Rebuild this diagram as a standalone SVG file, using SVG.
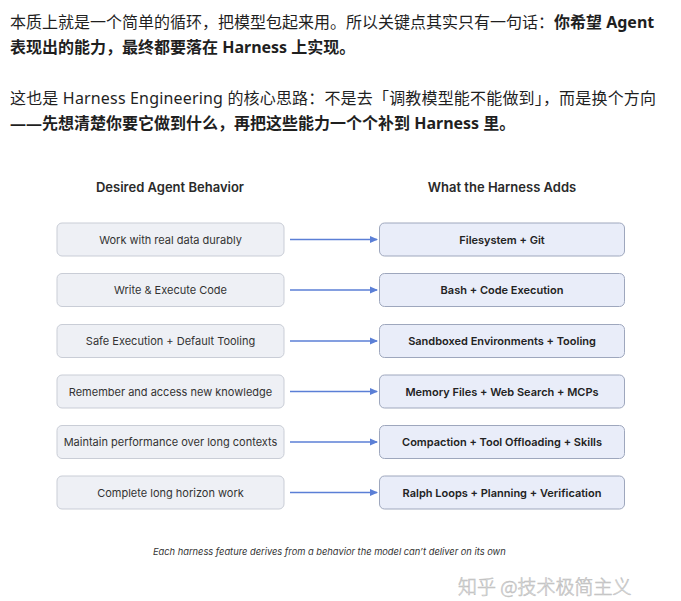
<svg xmlns="http://www.w3.org/2000/svg" width="681" height="601" viewBox="0 0 681 601">
<defs>
<style>
.p{font-family:"Noto Sans","Noto Sans CJK SC",sans-serif;font-size:16px;fill:#1f1f1f}
.b{font-weight:bold}
.h{font-family:Inter,"Liberation Sans",sans-serif;font-size:13px;font-weight:600;fill:#2a2a2a;text-anchor:middle}
.lb rect{fill:#eef0f5;stroke:#c9cdd6;stroke-width:1}
.rb rect{fill:#e9edf9;stroke:#9ea7bd;stroke-width:1}
.lt{font-family:Inter,"Liberation Sans",sans-serif;font-size:11px;fill:#333;text-anchor:middle}
.rt{font-family:Inter,"Liberation Sans",sans-serif;font-size:11px;font-weight:600;fill:#222;text-anchor:middle}
.cn line{stroke:#5b7fd6;stroke-width:1.3}
</style>
<marker id="ah" viewBox="0 0 8 8" refX="7" refY="4" markerWidth="8" markerHeight="8" markerUnits="userSpaceOnUse" orient="auto">
<path d="M0,0.5 L8,4 L0,7.5 Z" fill="#5b7fd6"/>
</marker>
</defs>
<rect width="681" height="601" fill="#fff"/>
<g id="intro">
<text class="p" x="10" y="28">本质上就是一个简单的循环，把模型包起来用。所以关键点其实只有一句话：<tspan class="b">你希望 Agent</tspan></text>
<text class="p b" x="10" y="53">表现出的能力，最终都要落在 Harness 上实现。</text>
<text class="p" x="10" y="104" textLength="646" lengthAdjust="spacing">这也是 Harness Engineering 的核心思路：不是去「调教模型能不能做到」，而是换个方向</text>
<text class="p b" x="10" y="129">——先想清楚你要它做到什么，再把这些能力一个个补到 Harness 里。</text>
</g>
<g id="headers">
<text class="h" x="170" y="192">Desired Agent Behavior</text>
<text class="h" x="502" y="192">What the Harness Adds</text>
</g>
<g id="left-nodes" class="lb">
<g id="l1"><rect x="57" y="223" width="227" height="33" rx="5"/><text class="lt" x="170.5" y="243.5">Work with real data durably</text></g>
<g id="l2"><rect x="57" y="273.5" width="227" height="33" rx="5"/><text class="lt" x="170.5" y="294">Write &amp; Execute Code</text></g>
<g id="l3"><rect x="57" y="324.5" width="227" height="33" rx="5"/><text class="lt" x="170.5" y="345">Safe Execution + Default Tooling</text></g>
<g id="l4"><rect x="57" y="375" width="227" height="33" rx="5"/><text class="lt" x="170.5" y="395.5">Remember and access new knowledge</text></g>
<g id="l5"><rect x="57" y="425.5" width="227" height="33" rx="5"/><text class="lt" x="170.5" y="446">Maintain performance over long contexts</text></g>
<g id="l6"><rect x="57" y="476" width="227" height="33" rx="5"/><text class="lt" x="170.5" y="496.5">Complete long horizon work</text></g>
</g>
<g id="right-nodes" class="rb">
<g id="r1"><rect x="379.5" y="223" width="245" height="33" rx="5"/><text class="rt" x="502" y="243.5">Filesystem + Git</text></g>
<g id="r2"><rect x="379.5" y="273.5" width="245" height="33" rx="5"/><text class="rt" x="502" y="294">Bash + Code Execution</text></g>
<g id="r3"><rect x="379.5" y="324.5" width="245" height="33" rx="5"/><text class="rt" x="502" y="345">Sandboxed Environments + Tooling</text></g>
<g id="r4"><rect x="379.5" y="375" width="245" height="33" rx="5"/><text class="rt" x="502" y="395.5">Memory Files + Web Search + MCPs</text></g>
<g id="r5"><rect x="379.5" y="425.5" width="245" height="33" rx="5"/><text class="rt" x="502" y="446">Compaction + Tool Offloading + Skills</text></g>
<g id="r6"><rect x="379.5" y="476" width="245" height="33" rx="5"/><text class="rt" x="502" y="496.5">Ralph Loops + Planning + Verification</text></g>
</g>
<g id="connectors" class="cn">
<line x1="290" y1="239.5" x2="377" y2="239.5" marker-end="url(#ah)"/>
<line x1="290" y1="290" x2="377" y2="290" marker-end="url(#ah)"/>
<line x1="290" y1="341" x2="377" y2="341" marker-end="url(#ah)"/>
<line x1="290" y1="391.5" x2="377" y2="391.5" marker-end="url(#ah)"/>
<line x1="290" y1="442" x2="377" y2="442" marker-end="url(#ah)"/>
<line x1="290" y1="492.5" x2="377" y2="492.5" marker-end="url(#ah)"/>
</g>
<text x="153" y="555" font-family="Inter,'Liberation Sans',sans-serif" font-size="9.3" font-style="italic" fill="#333">Each harness feature derives from a behavior the model can’t deliver on its own</text>
<text x="458" y="594" font-family="'Noto Sans CJK SC',sans-serif" font-size="19" font-weight="300" fill="#f4f4f4" stroke="#bdbdbd" stroke-width="0.6">知乎 @技术极简主义</text>
</svg>
